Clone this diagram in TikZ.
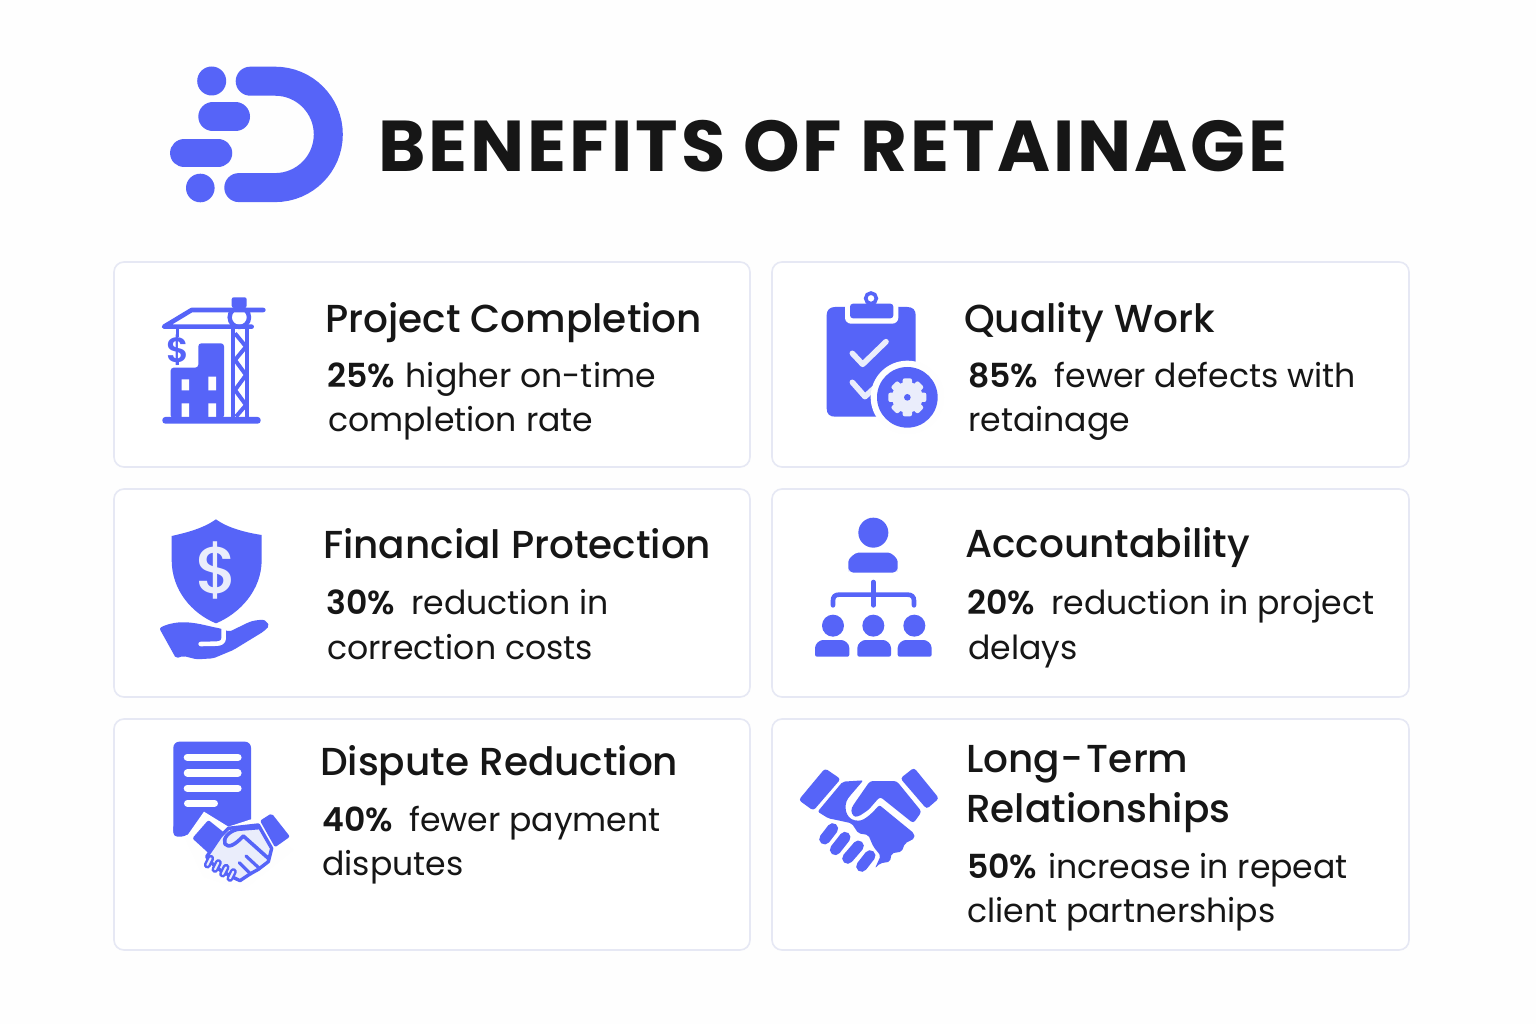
\documentclass[tikz,border=0pt]{standalone}
\usepackage{fontspec}
\setmainfont{Poppins}
\newfontfamily\pmed{Poppins Medium}
\newfontfamily\psemi{Poppins SemiBold}
\newfontfamily\ptitle[LetterSpace=4]{Poppins Bold}
\definecolor{brand}{HTML}{5664F8}
\definecolor{edge}{HTML}{E6E8F4}
\definecolor{pale}{HTML}{EAEDFB}
\definecolor{ink}{HTML}{161616}
\definecolor{paper}{HTML}{FEFEFE}
\tikzset{
  card/.style={draw=edge,line width=1.6pt,fill=white,rounded corners=10pt},
  head/.style={anchor=base west,inner sep=0pt,text=ink,font=\pmed\fontsize{39}{44}\selectfont},
  body/.style={anchor=base west,inner sep=0pt,text=ink,font=\fontsize{33.1}{40}\selectfont},
  bar/.style={draw=brand,line cap=round},
  gap/.style={draw=paper,line cap=round,line join=round},
  blue/.style={fill=brand},
}
\newcommand{\pct}[1]{{\psemi #1}\kern2pt\relax}
\begin{document}
\begin{tikzpicture}[x=1pt,y=-1pt]
\useasboundingbox (0,0) rectangle (1536,1024);
\fill[paper] (0,0) rectangle (1536,1024);
% logo
\fill[blue] (211.7,81) circle[radius=14.5];
\fill[blue] (200.3,188) circle[radius=14.3];
\draw[bar,line width=29pt] (212.8,116.7) -- (235.5,116.7);
\draw[bar,line width=28.5pt] (184.3,153.2) -- (218,153.2);
\draw[bar,line width=29pt] (250.2,81.2) -- (275,81.2) .. controls (304.5,81.2) and (328.3,105) .. (328.3,134.4) .. controls (328.3,163.8) and (304.5,187.6) .. (275,187.6) -- (238.8,187.6);
\node[anchor=base west,inner sep=0pt,text=ink,font=\ptitle\fontsize{72}{80}\selectfont] (title) at (378,172) {BENEFITS OF RETAINAGE};
% cards
\draw[card] (114,262) rectangle (750,467);
\draw[card] (772,262) rectangle (1409,467);
\draw[card] (114,489) rectangle (750,697);
\draw[card] (772,489) rectangle (1409,697);
\draw[card] (114,719) rectangle (750,950);
\draw[card] (772,719) rectangle (1409,950);
% texts
\node[head] (h1) at (325,332) {Project Completion};
\node[body] (b1a) at (327,387) {\pct{25\%} higher on-time};
\node[body] (b1b) at (328,431) {completion rate};
\node[head] (h2) at (964,332) {Quality Work};
\node[body] (b2a) at (968,387) {\pct{85\%}\, fewer defects with};
\node[body] (b2b) at (968,431) {retainage};
\node[head] (h3) at (323,558) {Financial Protection};
\node[body] (b3a) at (326,614) {\pct{30\%}\, reduction in};
\node[body] (b3b) at (327,659) {correction costs};
\node[head] (h4) at (965,557) {Accountability};
\node[body] (b4a) at (967,614) {\pct{20\%}\, reduction in project};
\node[body] (b4b) at (968,659) {delays};
\node[head] (h5) at (320,775) {Dispute Reduction};
\node[body] (b5a) at (322,831) {\pct{40\%}\, fewer payment};
\node[body] (b5b) at (322,875) {disputes};
\node[head] (h6a) at (966,772) {Long-\kern4pt Term};
\node[head] (h6b) at (966,822) {Relationships};
\node[body] (b6a) at (967,878) {\pct{50\%} increase in repeat};
\node[body] (b6b) at (967,922) {client partnerships};
% crane
\begin{scope}[shift={(150,285)},scale=1/3]
\draw[brand,line width=4.6pt,line join=round,line cap=round] (340,75) -- (125,75) -- (42,125) -- (305,125);
\fill[blue,rounded corners=2pt] (245,68) -- (245,37) -- (290,37) -- (290,68) -- cycle;
\draw[brand,line width=4.4pt] (268,97) circle[radius=29];
\draw[brand,line width=4pt] (250,130) -- (250,400) (291,130) -- (291,400);
\draw[brand,line width=4pt,line join=bevel] (255,145) -- (288,185) -- (255,225) -- (288,270) -- (255,315) -- (288,360) -- (258,395);
\draw[brand,line width=3pt] (83,128) -- (83,155) (83,225) -- (83,240);
\fill[blue,rounded corners=3pt] (62,400) -- (62,248) -- (145,248) -- (145,175) -- (222,175) -- (222,400) -- cycle;
\fill[paper] (95,283) rectangle (117,316) (175,275) rectangle (198,316) (95,355) rectangle (117,396) (175,355) rectangle (198,396);
\fill[blue,rounded corners=3pt] (37,396) rectangle (332,416);
\node[inner sep=0pt,text=brand,font=\psemi\fontsize{35}{35}\selectfont] (dollarA) at (85,195) {\$};
\end{scope}
% clipboard
\begin{scope}[shift={(810,285)},scale=1/3]
\fill[blue] (50,90) .. controls (50,75) and (60,66) .. (75,66) -- (292,66) .. controls (308,66) and (317,75) .. (317,90) -- (317,370) .. controls (317,388) and (308,395) .. (292,395) -- (75,395) .. controls (60,395) and (50,388) .. (50,370) -- cycle;
\fill[paper,rounded corners=6pt] (105,50) rectangle (265,116);
\fill[blue,rounded corners=3pt] (120,56) rectangle (250,100);
\draw[brand,line width=3.6pt] (183,40) circle[radius=16];
\draw[pale,line width=5.6pt,line cap=round,line join=round] (127,205) -- (158,238) -- (228,170);
\draw[pale,line width=5.6pt,line cap=round,line join=round] (127,292) -- (165,335) -- (192,310);
\fill[paper] (292,337) circle[radius=110];
\fill[blue] (292,337) circle[radius=91];
\fill[pale] (292,337) circle[radius=46];
\foreach \a in {0,45,...,315}
  \fill[pale,rotate around={\a:(292,337)},rounded corners=2pt] (278,280) rectangle (306,310);
\fill[blue] (292,337) circle[radius=10];
\end{scope}
% shield
\begin{scope}[shift={(150,510)},scale=1/3]
\fill[blue] (198,28) .. controls (235,55) and (290,68) .. (335,75) -- (335,150) .. controls (335,240) and (270,310) .. (198,340) .. controls (125,310) and (65,240) .. (65,150) -- (65,78) .. controls (110,68) and (160,55) .. (198,28) -- cycle;
\node[inner sep=0pt,text=pale,font=\pmed\fontsize{66}{66}\selectfont] (dollarB) at (201,180) {\$};
\fill[blue,rounded corners=2pt] (28,355) .. controls (50,342) and (80,336) .. (110,337) .. controls (150,340) and (180,350) .. (210,355) -- (238,365) -- (300,335) .. controls (320,330) and (340,328) .. (350,335) -- (358,348) -- (340,365) -- (250,420) -- (190,445) -- (140,448) -- (100,438) -- (78,445) -- cycle;
\draw[gap,line width=4.6pt] (221,352) -- (221,385) .. controls (221,395) and (212,401) .. (200,401) -- (152,402);
\end{scope}
% org chart
\begin{scope}[shift={(805,510)},scale=1/3]
\fill[blue] (205,68) circle[radius=45];
\fill[blue,rounded corners=5pt] (130,188) -- (130,170) .. controls (130,145) and (150,128) .. (175,128) -- (235,128) .. controls (260,128) and (278,145) .. (278,170) -- (278,188) -- cycle;
\draw[bar,line width=4.6pt] (205,216) -- (205,286);
\draw[bar,line width=4.6pt] (84,286) -- (84,272) .. controls (84,260) and (90,254) .. (102,254) -- (308,254) .. controls (320,254) and (327,260) .. (327,272) -- (327,286);
\foreach \c/\l/\r in {84/30/133,205/157/258,328/278/380}{
  \fill[blue] (\c,347) circle[radius=33];
  \fill[blue,rounded corners=2pt] (\l,440) -- (\l,420) .. controls (\l,400) and (\l+15,390) .. (\l+30,390) -- (\r-30,390) .. controls (\r-15,390) and (\r,400) .. (\r,420) -- (\r,440) -- cycle;
}
\end{scope}
% document with handshake
\begin{scope}[shift={(160,730)},scale=1/3]
\fill[blue,rounded corners=6pt] (40,35) -- (273,35) -- (273,285) -- (40,320) -- cycle;
\fill[blue,rounded corners=4pt] (40,280) -- (40,320) -- (75,320) -- (120,280) -- cycle;
\draw[gap,line width=7.2pt] (82,82) -- (234,82) (82,129) -- (234,129) (82,175) -- (234,175);
\draw[gap,line width=6.6pt] (82,220) -- (164,220);
\fill[paper] (76,325) -- (132,245) -- (205,290) -- (273,268) -- (300,280) -- (400,360) -- (250,480) -- (130,440) -- cycle;
\fill[blue,rounded corners=2pt] (97,325) -- (145,270) -- (205,318) -- (155,378) -- cycle;
\fill[blue,rounded corners=2pt] (300,272) -- (335,250) -- (390,320) -- (345,352) -- cycle;
\fill[pale,draw=brand,line width=3.4pt,line join=round] (140,380) -- (182,318) -- (205,295) -- (295,285) -- (335,355) -- (325,395) -- (295,418) -- (270,432) -- (240,452) -- (215,440) -- (180,420) -- (150,395) -- cycle;
\draw[brand,line width=3.6pt,line join=round,line cap=round] (295,293) -- (232,298) .. controls (205,305) and (188,325) .. (195,342) .. controls (205,355) and (225,345) .. (250,318) -- (325,385);
\draw[brand,line width=3.2pt,line cap=round] (258,378) -- (298,415) (238,398) -- (272,432);
\foreach \x/\y in {142/385,165/398,188/412,210/425}
  \draw[brand,line width=7pt,line cap=round] (\x,\y+20) -- (\x+10,\y);
\foreach \x/\y in {142/385,165/398,188/412,210/425}
  \draw[pale,line width=2pt,line cap=round] (\x,\y+20) -- (\x+10,\y);
\end{scope}
% big handshake
\begin{scope}[shift={(790,755)},scale=1/3]
\fill[blue,rounded corners=3pt] (105,40) -- (152,72) -- (70,167) -- (26,135) -- cycle;
\fill[blue,rounded corners=3pt] (372,38) -- (447,130) -- (410,162) -- (331,70) -- cycle;
\fill[blue,rounded corners=2pt] (158,80) -- (220,76) -- (178,125) .. controls (160,150) and (165,190) .. (200,197) .. controls (225,197) and (250,170) .. (268,150) -- (372,235) -- (374,250) -- (345,265) -- (335,290) -- (305,295) -- (300,320) -- (270,325) -- (255,340) -- (272,302) -- (250,275) -- (235,240) -- (205,235) -- (185,205) -- (140,195) -- (115,190) -- (83,170) -- cycle;
\fill[blue,rounded corners=3pt] (240,78) -- (320,78) -- (395,170) -- (370,205) -- (270,125) -- (235,165) -- (205,185) .. controls (190,185) and (180,170) .. (190,150) -- cycle;
\draw[bar,line width=11pt] (128,221) -- (104,252);
\draw[bar,line width=11pt] (165,247) -- (136,284);
\draw[bar,line width=11pt] (205,273) -- (173,310);
\draw[bar,line width=11pt] (240,302) -- (215,334);
\end{scope}
\end{tikzpicture}
\end{document}
